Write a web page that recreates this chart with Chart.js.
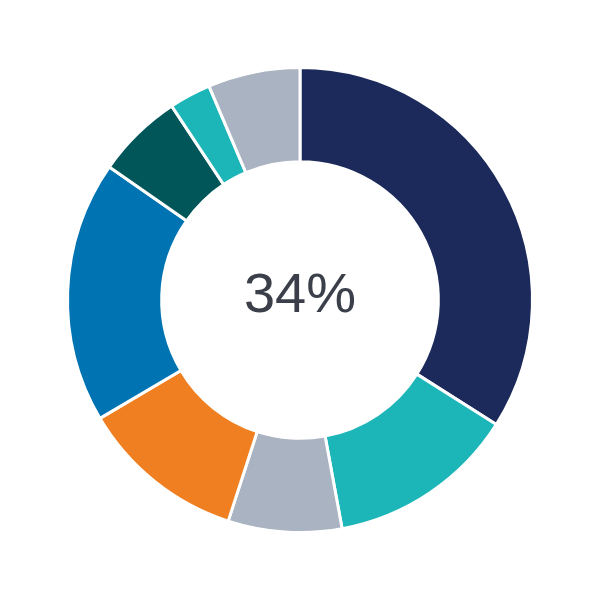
<!DOCTYPE html>
<html>
<head>
<meta charset="utf-8">
<script src="https://cdn.jsdelivr.net/npm/chart.js@4"></script>
<style>
  html, body { margin: 0; padding: 0; background: #fff; }
  #wrap { width: 600px; height: 600px; }
</style>
</head>
<body>
<div id="wrap"><canvas id="myChart" width="600" height="600"></canvas></div>
<script>
const labels = ['A', 'B', 'C', 'D', 'E', 'F', 'G', 'H'];
const values = [34, 13.1, 7.9, 11.5, 18.2, 6.0, 2.9, 6.4];
const colors = ['#1b2a5a', '#1cb5b8', '#a9b3c1', '#f07f22', '#0073b3', '#005658', '#1cb5b8', '#a9b3c1'];
const centerText = '34%';

// draws the big number in the hole
const centerLabel = {
  id: 'centerLabel',
  afterDraw(chart) {
    const ctx = chart.ctx;
    const meta = chart.getDatasetMeta(0).data[0];
    ctx.save();
    ctx.font = '56px "Liberation Sans", Arial, sans-serif';
    ctx.fillStyle = '#3b3f49';
    ctx.textAlign = 'center';
    ctx.textBaseline = 'middle';
    ctx.fillText(centerText, meta.x, meta.y - 3);
    ctx.restore();
  }
};

const config = {
  type: 'doughnut',
  data: {
    labels: labels,
    datasets: [{
      data: values,
      backgroundColor: colors,
      borderColor: '#ffffff',
      borderWidth: 3,
    }],
  },
  options: {
    responsive: false,
    animation: false,
    cutout: '59.5%',
    layout: { padding: 66 },
    plugins: {
      legend: { display: false },
      tooltip: { enabled: false },
    },
  },
  plugins: [centerLabel],
};

const myChart = new Chart(document.getElementById('myChart'), config);
</script>
</body>
</html>
